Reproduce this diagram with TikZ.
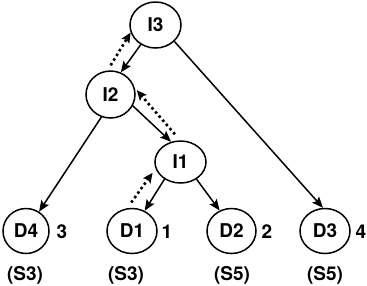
\documentclass[tikz,border=0pt]{standalone}
\usepackage{fontspec}
\setmainfont{TeX Gyre Heros}
\usetikzlibrary{shapes.geometric,arrows.meta}
\begin{document}
\begin{tikzpicture}[x=1pt,y=-1pt,
  nd/.style={draw,ellipse,line width=1.5pt,inner sep=0pt,font=\fontsize{19}{22}\selectfont\bfseries},
  lbl/.style={inner sep=0pt,font=\fontsize{19}{22}\selectfont\bfseries},
  arr/.style={line width=1.5pt,-{Stealth[length=11pt,width=9pt,inset=2pt]}},
  dotarr/.style={line width=2.6pt,dash pattern=on 2.5pt off 3pt,-{Stealth[length=10pt,width=9pt,inset=2pt]}}]
\useasboundingbox (0,0) rectangle (367,285);
\node[nd,minimum width=51pt,minimum height=46pt] (I3) at (155.5,25) {I3};
\node[nd,minimum width=49pt,minimum height=47pt] (I2) at (110.5,94.5) {I2};
\node[nd,minimum width=51pt,minimum height=42pt] (I1) at (180.5,162) {I1};
\node[nd,minimum width=46pt,minimum height=45pt] (D4) at (26,231) {D4};
\node[nd,minimum width=50pt,minimum height=45pt] (D1) at (132,231) {D1};
\node[nd,minimum width=49pt,minimum height=45pt] (D2) at (231.5,231) {D2};
\node[nd,minimum width=50pt,minimum height=45pt] (D3) at (325,231) {D3};
\node[lbl] (n3) at (62,231.5) {3};
\node[lbl] (n1) at (167,231.5) {1};
\node[lbl] (n2) at (267,231.5) {2};
\node[lbl] (n4) at (361,231.5) {4};
\node[lbl] (s4) at (25,275) {(S3)};
\node[lbl] (s1) at (126,275) {(S3)};
\node[lbl] (s2) at (232,275) {(S5)};
\node[lbl] (s3) at (325,275) {(S5)};
\draw[arr] (I3.233) -- (I2.65);
\draw[arr] (I2.-27) -- (I1.115);
\draw[arr] (I1.227) -- (D1.58);
\draw[arr] (I1.-47) -- (D2.120);
\draw[arr] (I2.248) -- (D4.56);
\draw[arr] (I3.-41) -- (D3.95);
\draw[dotarr,shorten <=6pt] (I2.97) -- (I3.197);
\draw[dotarr,shorten <=8pt,shorten >=3pt] (I1.91) -- (I2.15);
\draw[dotarr,shorten <=7pt,shorten >=5pt] (D1.102) -- (I1.195);
\end{tikzpicture}
\end{document}
